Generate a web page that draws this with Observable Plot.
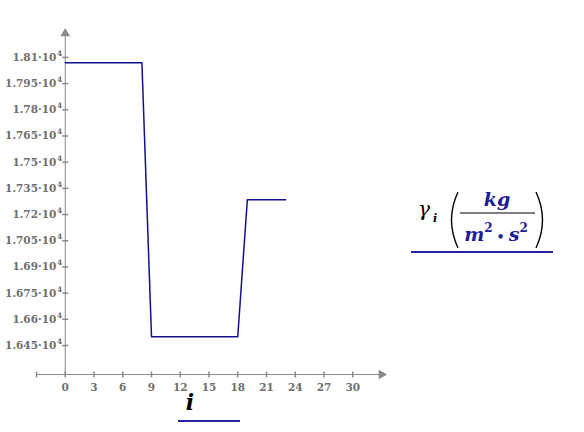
<!DOCTYPE html>
<html><head><meta charset="utf-8">
<script src="https://cdn.jsdelivr.net/npm/d3@7"></script>
<script src="https://cdn.jsdelivr.net/npm/@observablehq/plot@0.6"></script>
<style>
body{margin:0;background:#fff;}
#wrap{position:relative;width:584px;height:432px;overflow:hidden;}
#wrap > svg{position:absolute;left:0;top:0;}
</style></head><body>
<div id="wrap"></div>
<script>
// data
const idx = [0,1,2,3,4,5,6,7,8,9,10,11,12,13,14,15,16,17,18,19,20,21,22,23];
const gamma = [18070,18070,18070,18070,18070,18070,18070,18070,18070,
               16500,16500,16500,16500,16500,16500,16500,16500,16500,16500,
               17285,17285,17285,17285,17285];
const xTicks = [0,3,6,9,12,15,18,21,24,27,30];
const xTickMarks = [-3,0,3,6,9,12,15,18,21,24,27,30];
const yTicks = [16450,16600,16750,16900,17050,17200,17350,17500,17650,17800,17950,18100];
const xDomain = [-3, 33];
const yDomain = [16284, 18237];
const xLabel = "i";
const legendSymbol = "γ";
const legendSub = "i";

const data = idx.map((i,k)=>({i, g: gamma[k]}));
const fmtMant = v => String(+(v/1e4).toFixed(4)) + "·10";
const vTick = {draw(c){c.moveTo(0,-3);c.lineTo(0,3);}};
const hTick = {draw(c){c.moveTo(-3,0);c.lineTo(3,0);}};
const axisGray = "#8a8a8a";
const labelGray = "#6e6e6e";
const font = "DejaVu Serif";
const blue = "#1d1d9a";

const chart = Plot.plot({
  width: 584, height: 432,
  marginLeft: 36, marginRight: 203, marginTop: 33, marginBottom: 58,
  x: {domain: xDomain, axis: null},
  y: {domain: yDomain, axis: null},
  style: {fontFamily: font, background: "transparent"},
  marks: [
    Plot.ruleY([yDomain[0]], {stroke: axisGray, strokeWidth: 1}),
    Plot.ruleX([0], {stroke: axisGray, strokeWidth: 1}),
    Plot.dot([xDomain[1]], {x: d=>d, y: ()=>yDomain[0], symbol: "triangle", rotate: 90, r: 3.6, fill: axisGray, stroke: "none"}),
    Plot.dot([yDomain[1]], {x: ()=>0, y: d=>d, symbol: "triangle", r: 3.6, fill: axisGray, stroke: "none"}),
    Plot.dot(xTickMarks, {x: d=>d, y: ()=>yDomain[0], symbol: vTick, stroke: axisGray, fill: "none", r: 3}),
    Plot.dot(yTicks, {x: ()=>0, y: d=>d, symbol: hTick, stroke: axisGray, fill: "none", r: 3}),
    Plot.text(xTicks, {x: d=>d, y: ()=>yDomain[0], dy: 13, text: d=>String(d), fill: labelGray, fontSize: 10.5, fontWeight: "bold", fontFamily: font}),
    Plot.text(yTicks, {x: ()=>0, y: d=>d, dx: -9, textAnchor: "end", text: fmtMant, fill: labelGray, fontSize: 10.5, fontWeight: "bold", fontFamily: font}),
    Plot.text(yTicks, {x: ()=>0, y: d=>d, dx: -3, dy: -4, textAnchor: "end", text: () => "4", fill: labelGray, fontSize: 7.5, fontWeight: "bold", fontFamily: font}),
    Plot.line(data, {x: "i", y: "g", stroke: "#12128c", strokeWidth: 1.5})
  ]
});
const wrap = document.getElementById("wrap");
wrap.appendChild(chart);

// overlay for axis title and legend
const ns = "http://www.w3.org/2000/svg";
const ov = d3.select(wrap).append("svg")
  .attr("xmlns", ns).attr("width", 584).attr("height", 432)
  .style("position","absolute").style("left","0").style("top","0")
  .style("font-family", font);

ov.append("text").attr("x", 190).attr("y", 410).attr("text-anchor","middle")
  .attr("font-size", 22).attr("font-style","italic").attr("font-weight","bold").attr("fill","#000").text(xLabel);
ov.append("line").attr("x1",178).attr("x2",240).attr("y1",421).attr("y2",421).attr("stroke","#2525a0").attr("stroke-width",2);

const lg = ov.append("g").attr("transform","translate(400,180)");
lg.append("text").attr("x",18).attr("y",36).attr("font-size",20).attr("font-style","italic").attr("fill","#000").text(legendSymbol);
lg.append("text").attr("x",33).attr("y",42).attr("font-size",11).attr("font-style","italic").attr("font-weight","bold").attr("fill","#000").text(legendSub);
lg.append("path").attr("d","M58 12 Q45 40 58 68").attr("fill","none").attr("stroke","#000").attr("stroke-width",1.4);
lg.append("path").attr("d","M136 12 Q149 40 136 68").attr("fill","none").attr("stroke","#000").attr("stroke-width",1.4);
lg.append("text").attr("x",97).attr("y",26).attr("text-anchor","middle").attr("font-size",19).attr("font-style","italic").attr("font-weight","bold").attr("fill",blue).text("kg");
lg.append("line").attr("x1",60).attr("x2",135).attr("y1",33).attr("y2",33).attr("stroke","#000").attr("stroke-width",1);
const den = lg.append("text").attr("x",96).attr("y",61).attr("text-anchor","middle").attr("font-size",19).attr("font-style","italic").attr("font-weight","bold").attr("fill",blue);
den.append("tspan").text("m");
den.append("tspan").attr("dy",-9).attr("font-size",12).attr("font-style","normal").text("2");
den.append("tspan").attr("dy",9).attr("font-style","normal").attr("font-size",12).text(" • ");
den.append("tspan").attr("font-size",19).text("s");
den.append("tspan").attr("dy",-9).attr("font-size",12).attr("font-style","normal").text("2");
lg.append("line").attr("x1",11).attr("x2",153).attr("y1",72).attr("y2",72).attr("stroke","#2525a0").attr("stroke-width",2);
</script>
</body></html>
